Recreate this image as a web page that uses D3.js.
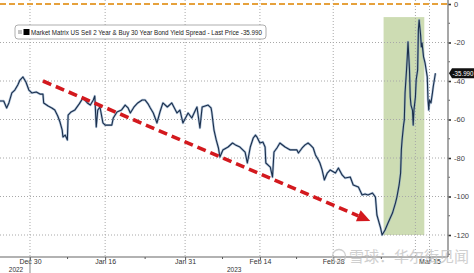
<!DOCTYPE html>
<html>
<head>
<meta charset="utf-8">
<script src="https://cdn.jsdelivr.net/npm/d3@7"></script>
<style>
  html, body { margin: 0; padding: 0; background: #fff; }
  svg { display: block; font-family: "Liberation Sans Narrow", "Liberation Sans", Arial, sans-serif; }
</style>
</head>
<body>
<svg id="chart" width="474" height="273"></svg>
<script>
// ── DATA (x = trading-day index from left edge, y = spread in bp) ──
const days = [0,0.5,0.9,1.2,1.6,2.0,2.4,2.7,3.1,3.5,3.9,4.3,4.9,5.4,5.8,5.9,6.5,7.0,7.4,7.8,
  8.1,8.4,8.5,8.8,9.1,9.2,9.6,10.1,10.7,11.2,11.8,12.2,12.6,12.8,13.0,13.2,13.5,13.9,14.2,15.1,
  15.3,15.8,16.4,16.9,17.3,17.6,18.1,18.6,19.2,19.6,20.0,20.3,20.7,21.2,21.6,22.0,22.6,23.2,23.9,24.3,
  24.7,25.4,25.9,26.4,26.6,27.0,27.3,28.1,28.5,28.6,28.9,29.2,29.5,29.7,30.1,30.8,31.4,31.8,32.4,33.1,
  33.4,33.8,34.2,34.5,34.7,35.1,35.5,35.8,35.9,36.5,36.8,37.0,37.4,37.8,38.5,39.2,40.1,40.3,40.8,41.2,
  41.6,41.9,42.3,42.6,43.0,43.2,43.5,43.8,44.2,44.6,45.3,45.7,46.2,46.6,47.3,47.7,48.4,48.9,49.3,49.7,
  50.3,50.7,50.9,51.4,51.6,52.0,52.4,53.0,53.4,53.6,53.9,54.1,54.2,54.3,54.5,54.6,54.7,54.9,55.0,55.1,
  55.3,55.4,55.5,55.7,55.8,55.9,56.1,56.2,56.4,56.5,56.6,56.8,56.9,57.0,57.2,57.4,57.7,57.8,57.9,58.0,
  58.2,58.4,58.5,58.8];
const spread = [-50.4,-50.4,-54.0,-51.4,-46.2,-44.7,-42.1,-39.5,-37.9,-40.5,-44.7,-46.2,-45.7,-46.8,-46.8,-51.4,-53.0,-54.0,-55.1,-58.2,
  -61.3,-65.5,-69.1,-68.1,-70.6,-57.7,-56.1,-55.1,-51.9,-48.8,-51.4,-52.5,-49.9,-47.8,-63.9,-55.1,-53.5,-61.8,-62.9,-62.9,
  -59.2,-56.1,-55.1,-52.5,-54.0,-56.6,-53.5,-51.4,-49.9,-49.9,-51.9,-54.0,-56.6,-61.8,-56.1,-51.4,-53.5,-51.4,-56.6,-55.1,
  -61.8,-56.6,-59.2,-55.1,-53.5,-64.4,-53.5,-52.5,-54.0,-56.1,-65.5,-70.6,-74.8,-79.5,-75.8,-74.3,-72.2,-73.2,-74.3,-76.9,
  -82.6,-74.3,-69.6,-68.1,-69.1,-72.2,-71.7,-74.3,-82.6,-84.7,-89.9,-76.9,-74.8,-72.2,-74.3,-75.8,-75.8,-77.4,-74.8,-73.2,
  -72.2,-73.2,-74.8,-78.4,-81.0,-82.6,-86.2,-91.4,-87.8,-86.2,-87.8,-85.2,-88.8,-90.4,-89.9,-94.0,-95.1,-99.2,-98.7,-99.2,
  -98.2,-100.3,-109.6,-116.4,-120.0,-117.4,-113.8,-108.6,-103.4,-100.3,-94.0,-87.8,-75.8,-70.6,-62.9,-60.3,-46.2,-34.3,-27.5,-19.7,
  -34.3,-48.3,-52.5,-55.1,-62.9,-55.1,-48.3,-39.5,-34.3,-13.5,-8.3,-16.1,-22.3,-20.3,-27.5,-30.6,-37.9,-49.9,-55.1,-49.9,
  -51.4,-46.2,-43.1,-35.99];

const tickDays   = [4.05, 14.2, 25.0, 35.1, 45.0, 58.0];
const tickLabels = ['Dec 30', 'Jan 16', 'Jan 31', 'Feb 14', 'Feb 28', 'Mar 15'];
const extraGrid  = [56.1];
const yTicks     = [0, -20, -40, -60, -80, -100, -120];
const yMinor     = [-10, -30, -50, -70, -90, -110, -130];
const lastPrice  = -35.990;
const seriesName = 'Market Matrix US Sell 2 Year & Buy 30 Year Bond Yield Spread - Last Price';
const shadeDays  = [51.8, 57.3];
const shadeVals  = [-6.8, -120];
const trendFrom  = [5.8, -40.0];
const trendTo    = [50.0, -112.7];

// ── SETUP ──
const W = 474, H = 273;
const AXIS_X = 448, AXIS_Y = 257;
const svg = d3.select('#chart');

const x = d3.scaleLinear().domain([0, 60.5]).range([0, AXIS_X]);
const y = d3.scaleLinear().domain([0, -120]).range([4, 235]);

svg.append('defs').append('clipPath').attr('id', 'plot-clip')
  .append('rect').attr('x', 0).attr('y', 0).attr('width', AXIS_X).attr('height', AXIS_Y);

// shaded window
svg.append('rect')
  .attr('x', x(shadeDays[0])).attr('y', y(shadeVals[0]))
  .attr('width', x(shadeDays[1]) - x(shadeDays[0]))
  .attr('height', y(shadeVals[1]) - y(shadeVals[0]))
  .attr('fill', '#cddcb3');

// grid
const grid = svg.append('g').attr('stroke', '#a8a8a8').attr('stroke-dasharray', '1,2').attr('stroke-width', 1);
yTicks.filter(d => d !== 0).forEach(v => {
  grid.append('line').attr('x1', 0).attr('x2', AXIS_X).attr('y1', y(v)).attr('y2', y(v));
});
tickDays.concat(extraGrid).forEach(d => {
  grid.append('line').attr('x1', x(d)).attr('x2', x(d)).attr('y1', 0).attr('y2', AXIS_Y);
});

// zero line (orange dashed)
svg.append('line')
  .attr('x1', 0).attr('x2', AXIS_X).attr('y1', y(0)).attr('y2', y(0))
  .attr('stroke', '#e6a13c').attr('stroke-width', 2).attr('stroke-dasharray', '6,3');

// series
const pts = days.map((d, i) => [d, spread[i]]);
const line = d3.line().x(d => x(d[0])).y(d => y(d[1]));
const plot = svg.append('g').attr('clip-path', 'url(#plot-clip)');
plot.append('path').datum(pts).attr('d', line)
  .attr('fill', 'none').attr('stroke', '#7d9cc2').attr('stroke-width', 2.4).attr('stroke-opacity', 0.6)
  .attr('stroke-linejoin', 'round');
plot.append('path').datum(pts).attr('d', line)
  .attr('fill', 'none').attr('stroke', '#1b2f4c').attr('stroke-width', 1.1)
  .attr('stroke-linejoin', 'round');

// trend arrow
const p0 = [x(trendFrom[0]), y(trendFrom[1])];
const p1 = [x(trendTo[0]), y(trendTo[1])];
const ang = Math.atan2(p1[1] - p0[1], p1[0] - p0[0]);
const headLen = 13, headW = 6;
const base = [p1[0] - headLen * Math.cos(ang), p1[1] - headLen * Math.sin(ang)];
svg.append('line')
  .attr('x1', p0[0]).attr('y1', p0[1]).attr('x2', base[0]).attr('y2', base[1])
  .attr('stroke', '#d3191e').attr('stroke-width', 3.6).attr('stroke-dasharray', '9,5');
svg.append('path')
  .attr('d', `M${p1[0]},${p1[1]}L${base[0] + headW * Math.sin(ang)},${base[1] - headW * Math.cos(ang)}` +
             `L${base[0] - headW * Math.sin(ang)},${base[1] + headW * Math.cos(ang)}Z`)
  .attr('fill', '#d3191e');

// ── Y AXIS (right) ──
const yAxisG = svg.append('g').attr('transform', `translate(${AXIS_X},0)`)
  .call(d3.axisRight(y).tickValues(yTicks).tickSize(3).tickPadding(3).tickFormat(d => d));
yAxisG.select('.domain').remove();
yAxisG.selectAll('.tick line').attr('stroke', '#333').attr('stroke-width', 1.6);
yAxisG.selectAll('.tick text').attr('fill', '#444').style('font-size', '7.5px');
yMinor.forEach(v => {
  yAxisG.append('line').attr('x1', 0).attr('x2', 2).attr('y1', y(v)).attr('y2', y(v))
    .attr('stroke', '#666').attr('stroke-width', 1);
});
svg.append('line').attr('x1', AXIS_X).attr('x2', AXIS_X).attr('y1', 0).attr('y2', AXIS_Y)
  .attr('stroke', '#8a8a8a').attr('stroke-width', 1.5);

// last price tag
const ly = y(lastPrice);
svg.append('path')
  .attr('d', `M${AXIS_X + 1},${ly}L${AXIS_X + 4},${ly - 5}L${W},${ly - 5}L${W},${ly + 5}L${AXIS_X + 4},${ly + 5}Z`)
  .attr('fill', '#111');
svg.append('text').attr('x', AXIS_X + 4.5).attr('y', ly + 2.3)
  .attr('textLength', 21).attr('lengthAdjust', 'spacingAndGlyphs')
  .attr('fill', '#fff').style('font-size', '6.5px').text(lastPrice.toFixed(3));

// ── X AXIS ──
const minorDays = tickDays.slice(0, -1).map((d, i) => (d + tickDays[i + 1]) / 2);
const xAxisG = svg.append('g').attr('transform', `translate(0,${AXIS_Y})`)
  .call(d3.axisBottom(x).tickValues(tickDays).tickSize(3).tickFormat((d, i) => tickLabels[i]));
xAxisG.select('.domain').remove();
xAxisG.selectAll('.tick line').attr('stroke', '#555');
xAxisG.selectAll('.tick text').attr('y', 7).attr('dy', 0).attr('fill', '#333').style('font-size', '7px');
minorDays.forEach(d => {
  xAxisG.append('line').attr('x1', x(d)).attr('x2', x(d)).attr('y1', 0).attr('y2', 2).attr('stroke', '#555');
});
svg.append('line').attr('x1', 0).attr('x2', AXIS_X).attr('y1', AXIS_Y).attr('y2', AXIS_Y)
  .attr('stroke', '#666').attr('stroke-width', 1.2);

// year separator + labels
svg.append('line').attr('x1', x(tickDays[0])).attr('x2', x(tickDays[0])).attr('y1', AXIS_Y).attr('y2', H)
  .attr('stroke', '#888');
svg.append('text').attr('x', 16).attr('y', 272).attr('text-anchor', 'middle')
  .attr('fill', '#333').style('font-size', '6.5px').text('2022');
svg.append('text').attr('x', 227).attr('y', 272)
  .attr('fill', '#333').style('font-size', '6.5px').text('2023');

// ── LEGEND ──
const lg = svg.append('g');
lg.append('rect').attr('x', 15).attr('y', 25).attr('width', 251).attr('height', 14).attr('rx', 3)
  .attr('fill', '#fff').attr('stroke', '#999').attr('stroke-width', 0.8);
lg.append('line').attr('x1', 18).attr('x2', 22).attr('y1', 31).attr('y2', 31).attr('stroke', '#888');
lg.append('line').attr('x1', 18).attr('x2', 22).attr('y1', 33).attr('y2', 33).attr('stroke', '#888');
lg.append('rect').attr('x', 23.5).attr('y', 29).attr('width', 6).attr('height', 6).attr('fill', '#000');
lg.append('text').attr('x', 31).attr('y', 35)
  .attr('textLength', 231).attr('lengthAdjust', 'spacingAndGlyphs')
  .attr('fill', '#222').style('font-size', '7.5px')
  .text(`${seriesName} ${lastPrice.toFixed(3)}`);

// ── WATERMARK ──
const wm = svg.append('g').attr('opacity', 0.8);
wm.append('circle').attr('cx', 339).attr('cy', 256).attr('r', 6.5)
  .attr('fill', 'none').attr('stroke', '#c4c4c4').attr('stroke-width', 1.3);
wm.append('text').attr('x', 339).attr('y', 259.5).attr('text-anchor', 'middle')
  .attr('fill', '#c4c4c4').style('font-size', '8px').text('≈');
wm.append('text').attr('x', 349).attr('y', 262)
  .attr('fill', '#c4c4c4').style('font-family', '"Noto Sans CJK SC", sans-serif').style('font-size', '15px')
  .text('雪球：华尔街见闻');
</script>
</body>
</html>
